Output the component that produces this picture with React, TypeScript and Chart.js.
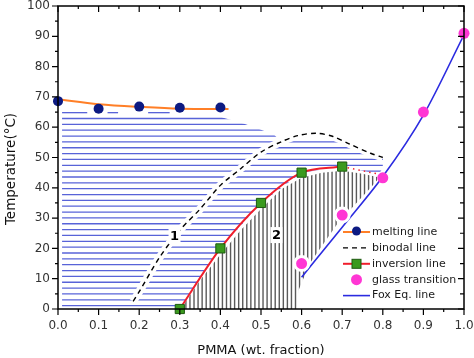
import React, { useEffect, useRef } from "react";
import { Chart, registerables } from "chart.js";
Chart.register(...registerables);

// ---------- data ----------
const X_TICK_VALUES = [0, 0.1, 0.2, 0.3, 0.4, 0.5, 0.6, 0.7, 0.8, 0.9, 1.0];
const X_TICK_LABELS = ["0.0", "0.1", "0.2", "0.3", "0.4", "0.5", "0.6", "0.7", "0.8", "0.9", "1.0"];
const Y_TICK_VALUES = [0, 10, 20, 30, 40, 50, 60, 70, 80, 90, 100];
const Y_TICK_LABELS = ["0", "10", "20", "30", "40", "50", "60", "70", "80", "90", "100"];
const X_TITLE = "PMMA (wt. fraction)";
const Y_TITLE = "Temperature(°C)";

const MELT_X = [0, 0.1, 0.2, 0.3, 0.4];
const MELT_T = [68.6, 66.1, 66.8, 66.4, 66.5];
const MELT_FIT_X = [0, 0.1, 0.2, 0.3, 0.42];
const MELT_FIT_T = [69.2, 67.6, 66.7, 66.1, 66.0];

const BINODAL_X = [0.185, 0.2, 0.25, 0.3, 0.35, 0.4, 0.45, 0.5, 0.55, 0.59, 0.636, 0.676, 0.717, 0.77, 0.8];
const BINODAL_T = [2.5, 5.7, 17, 26, 33, 40.8, 46.3, 51.8, 55.2, 57.2, 58, 57, 54.5, 51.4, 50];

const INV_X = [0.3, 0.4, 0.5, 0.6, 0.7];
const INV_T = [0, 20, 35, 45, 47];
const INV_EXT_X = [0.7, 0.79];
const INV_EXT_T = [47, 44.5];

const GLASS_X = [0.6, 0.7, 0.8, 0.9, 1.0];
const GLASS_T = [15, 31, 43.3, 65, 91];

const FOX_X = [0.6, 0.7, 0.8, 0.9, 1.0];
const FOX_T = [10.5, 27, 43.7, 64, 90.5];

// hatched regions (boundaries in data units)
const H_POLY_X = [0.01, 0.405, 0.405, 0.457, 0.497, 0.533, 0.545, 0.59, 0.636, 0.676, 0.717, 0.77, 0.8, 0.8, 0.79, 0.7, 0.6, 0.5, 0.4, 0.3, 0.01];
const H_POLY_T = [63.6, 63.6, 63.2, 61.2, 59.3, 57.4, 55.8, 57.4, 58.2, 57.2, 54.7, 51.6, 50.2, 46.5, 44.5, 47, 45, 35, 20, 0, 0];
const H_TOP = 64.8;
const H_STEP = 1.93;
const H_ROWS = 34;
const H_TOP_SEGS = [[0.01, 0.072], [0.122, 0.148], [0.222, 0.275]];

const V_POLY_X = [0.31, 0.35, 0.4, 0.45, 0.5, 0.55, 0.6, 0.65, 0.7, 0.75, 0.786, 0.786, 0.77, 0.69, 0.62, 0.592, 0.588, 0.31];
const V_POLY_T = [1.5, 9.5, 18, 26, 33, 39.5, 43.3, 45, 45.6, 44.6, 43.6, 42.5, 40, 28.5, 15, 6, 0, 0];
const V_START = 0.315;
const V_STEP = 0.01;
const V_COUNT = 48;

const REGION_LABELS = ["1", "2"];
const REGION_X = [0.287, 0.538];
const REGION_T = [24, 24.4];

const LEGEND_LABELS = ["melting line", "binodal line", "inversion line", "glass transition", "Fox Eq. line"];

// ---------- styles ----------
const C_ORANGE = "#ff7f27";
const C_NAVY = "#0c1a82";
const C_RED = "#f01e2c";
const C_GREEN = "#3a9a1e";
const C_GREEN_DARK = "#1d5a10";
const C_PINK = "#ff36d4";
const C_BLUE = "#2b2be0";
const C_HATCH_H = "rgba(70,82,212,0.9)";
const C_HATCH_V = "#5a5a5a";
const FONT = '"DejaVu Sans", sans-serif';

const pts = (xs: number[], ys: number[]) => xs.map((x, i) => ({ x, y: ys[i] }));

const hatchPlugin = {
  id: "hatch",
  beforeDatasetsDraw(chart: any) {
    const { ctx, chartArea: a, scales } = chart;
    const px = (v: number) => scales.x.getPixelForValue(v);
    const py = (v: number) => scales.y.getPixelForValue(v);
    const poly = (X: number[], T: number[]) => {
      ctx.beginPath();
      X.forEach((v, i) => (i ? ctx.lineTo(px(v), py(T[i])) : ctx.moveTo(px(v), py(T[i]))));
      ctx.closePath();
    };
    // horizontal hatching
    ctx.save();
    poly(H_POLY_X, H_POLY_T);
    ctx.clip();
    ctx.strokeStyle = C_HATCH_H;
    ctx.lineWidth = 1.3;
    for (let i = 1; i < H_ROWS; i++) {
      const y = py(H_TOP - i * H_STEP);
      ctx.beginPath();
      ctx.moveTo(a.left, y);
      ctx.lineTo(a.right, y);
      ctx.stroke();
    }
    ctx.restore();
    ctx.save();
    ctx.strokeStyle = C_HATCH_H;
    ctx.lineWidth = 1.3;
    const yt = py(H_TOP);
    H_TOP_SEGS.forEach(([s, e]) => {
      ctx.beginPath();
      ctx.moveTo(px(s), yt);
      ctx.lineTo(px(e), yt);
      ctx.stroke();
    });
    ctx.restore();
    // vertical hatching
    ctx.save();
    poly(V_POLY_X, V_POLY_T);
    ctx.clip();
    ctx.strokeStyle = C_HATCH_V;
    ctx.lineWidth = 1.4;
    for (let i = 0; i < V_COUNT; i++) {
      const x = px(V_START + i * V_STEP);
      ctx.beginPath();
      ctx.moveTo(x, a.top);
      ctx.lineTo(x, a.bottom);
      ctx.stroke();
    }
    ctx.restore();
  },
};

const overlayPlugin = {
  id: "overlay",
  afterDatasetsDraw(chart: any) {
    const { ctx, scales } = chart;
    ctx.save();
    ctx.font = `bold 13px ${FONT}`;
    ctx.textAlign = "center";
    ctx.textBaseline = "middle";
    REGION_LABELS.forEach((lab, i) => {
      const x = scales.x.getPixelForValue(REGION_X[i]);
      const y = scales.y.getPixelForValue(REGION_T[i]);
      ctx.fillStyle = "#fff";
      ctx.fillRect(x - 6, y - 8, 12, 16);
      ctx.fillStyle = "#000";
      ctx.fillText(lab, x, y + 0.5);
    });
    ctx.restore();
  },
  afterDraw(chart: any) {
    const { ctx, chartArea: a, scales } = chart;
    ctx.save();
    // frame
    ctx.strokeStyle = "#000";
    ctx.lineWidth = 1.5;
    ctx.strokeRect(a.left, a.top, a.right - a.left, a.bottom - a.top);
    // ticks
    ctx.lineWidth = 1.2;
    ctx.beginPath();
    for (let i = 0; i <= 20; i++) {
      const major = i % 2 === 0;
      const x = scales.x.getPixelForValue(i * 0.05);
      const L = major ? 6 : 3;
      ctx.moveTo(x, a.bottom);
      ctx.lineTo(x, a.bottom + L);
      ctx.moveTo(x, a.top);
      ctx.lineTo(x, a.top + L);
    }
    for (let i = 0; i <= 20; i++) {
      const major = i % 2 === 0;
      const y = scales.y.getPixelForValue(i * 5);
      const L = major ? 6 : 3;
      ctx.moveTo(a.left, y);
      ctx.lineTo(a.left - L, y);
      ctx.moveTo(a.right, y);
      ctx.lineTo(a.right - (major ? 6 : 4), y);
    }
    ctx.stroke();

    // y title
    ctx.save();
    ctx.translate(11, 169);
    ctx.rotate(-Math.PI / 2);
    ctx.font = `13.5px ${FONT}`;
    ctx.fillStyle = "#111";
    ctx.textAlign = "center";
    ctx.textBaseline = "middle";
    ctx.fillText(Y_TITLE, 0, 0);
    ctx.restore();

    // legend
    const lx0 = 343, lx1 = 370, tx = 372, y0 = 232, dy = 15.9;
    ctx.font = `11px ${FONT}`;
    ctx.textAlign = "left";
    ctx.textBaseline = "middle";
    LEGEND_LABELS.forEach((lab, i) => {
      const y = y0 + i * dy;
      const cx = (lx0 + lx1) / 2;
      ctx.setLineDash([]);
      if (i === 0) {
        ctx.strokeStyle = C_ORANGE; ctx.lineWidth = 2;
        ctx.beginPath(); ctx.moveTo(lx0, y); ctx.lineTo(lx1, y); ctx.stroke();
        ctx.fillStyle = C_NAVY;
        ctx.beginPath(); ctx.arc(cx, y - 1, 4.5, 0, Math.PI * 2); ctx.fill();
      } else if (i === 1) {
        ctx.strokeStyle = "#000"; ctx.lineWidth = 1.3; ctx.setLineDash([5, 4]);
        ctx.beginPath(); ctx.moveTo(lx0, y); ctx.lineTo(lx1, y); ctx.stroke();
        ctx.setLineDash([]);
      } else if (i === 2) {
        ctx.strokeStyle = C_RED; ctx.lineWidth = 2;
        ctx.beginPath(); ctx.moveTo(lx0, y); ctx.lineTo(lx1, y); ctx.stroke();
        ctx.fillStyle = C_GREEN; ctx.fillRect(cx - 4.5, y - 4.5, 9, 9);
        ctx.strokeStyle = C_GREEN_DARK; ctx.lineWidth = 1; ctx.strokeRect(cx - 4.5, y - 4.5, 9, 9);
      } else if (i === 3) {
        ctx.fillStyle = C_PINK;
        ctx.beginPath(); ctx.arc(cx, y, 5.5, 0, Math.PI * 2); ctx.fill();
      } else {
        ctx.strokeStyle = C_BLUE; ctx.lineWidth = 1.6;
        ctx.beginPath(); ctx.moveTo(lx0, y); ctx.lineTo(lx1, y); ctx.stroke();
      }
      ctx.fillStyle = "#1a1a1a";
      ctx.fillText(lab, tx, y);
    });
    ctx.restore();
  },
};

const noPad = (s: any) => {
  s.paddingTop = 0;
  s.paddingBottom = 0;
  s.paddingLeft = 0;
  s.paddingRight = 0;
};

export default function App() {
  const ref = useRef<HTMLCanvasElement>(null);
  useEffect(() => {
    const canvas = ref.current!;
    const chart = new Chart(canvas, {
      type: "scatter",
      data: {
        datasets: [
          {
            label: "binodal halo",
            data: pts(BINODAL_X, BINODAL_T),
            showLine: true, borderColor: "#fff", borderWidth: 8, pointRadius: 0,
            tension: 0.3, order: 9,
          },
          {
            label: "binodal line",
            data: pts(BINODAL_X, BINODAL_T),
            showLine: true, borderColor: "#000", borderWidth: 1.4, borderDash: [5, 4], pointRadius: 0,
            tension: 0.3, order: 8,
          },
          {
            label: "Fox Eq. line",
            data: pts(FOX_X, FOX_T),
            showLine: true, borderColor: C_BLUE, borderWidth: 1.6, pointRadius: 0,
            cubicInterpolationMode: "monotone", order: 7,
          },
          {
            label: "melting fit",
            data: pts(MELT_FIT_X, MELT_FIT_T),
            showLine: true, borderColor: C_ORANGE, borderWidth: 2, pointRadius: 0,
            cubicInterpolationMode: "monotone", order: 6,
          },
          {
            label: "inversion ext",
            data: pts(INV_EXT_X, INV_EXT_T),
            showLine: true, borderColor: C_RED, borderWidth: 1.5, borderDash: [1.5, 4], pointRadius: 0,
            order: 5,
          },
          {
            label: "inversion line",
            data: pts(INV_X, INV_T),
            showLine: true, borderColor: C_RED, borderWidth: 2, tension: 0.3,
            pointStyle: "rect", pointRadius: 6.5, pointBackgroundColor: C_GREEN,
            pointBorderColor: C_GREEN_DARK, pointBorderWidth: 1, order: 4,
            clip: false,
          },
          {
            label: "melting line",
            data: pts(MELT_X, MELT_T),
            showLine: false, pointRadius: 5, pointBackgroundColor: C_NAVY, pointBorderColor: C_NAVY,
            pointBorderWidth: 0, order: 2, clip: false,
          },
          {
            label: "glass transition",
            data: pts(GLASS_X, GLASS_T),
            showLine: false,
            pointRadius: [7, 7, 5.5, 5.5, 5.5],
            pointBorderWidth: [3, 3, 0, 0, 0],
            pointBackgroundColor: C_PINK, pointBorderColor: "#fff", order: 1, clip: false,
          },
        ],
      } as any,
      options: {
        animation: false,
        responsive: true,
        maintainAspectRatio: false,
        layout: { autoPadding: false, padding: { top: 6, right: 10, left: 0, bottom: 0 } },
        plugins: { legend: { display: false }, tooltip: { enabled: false } },
        scales: {
          x: {
            type: "linear", min: 0, max: 1,
            grid: { display: false, drawTicks: false },
            border: { display: false },
            afterBuildTicks: (s: any) => { s.ticks = X_TICK_VALUES.map((v) => ({ value: v })); },
            afterFit: (s: any) => { s.height = 49; noPad(s); },
            ticks: {
              padding: 10, color: "#333", font: { family: FONT, size: 12 },
              callback: (_v: any, i: number) => X_TICK_LABELS[i],
              autoSkip: false, maxRotation: 0,
            },
            title: {
              display: true, text: X_TITLE, color: "#111",
              font: { family: FONT, size: 13 }, padding: { top: 0, bottom: 0 },
            },
          },
          y: {
            type: "linear", min: 0, max: 100,
            grid: { display: false, drawTicks: false },
            border: { display: false },
            afterBuildTicks: (s: any) => { s.ticks = Y_TICK_VALUES.map((v) => ({ value: v })); },
            afterFit: (s: any) => { s.width = 58; noPad(s); },
            ticks: {
              padding: 8, color: "#333", font: { family: FONT, size: 12, lineHeight: 1 },
              callback: (_v: any, i: number) => Y_TICK_LABELS[i],
              autoSkip: false,
            },
            title: { display: false },
          },
        },
      } as any,
      plugins: [hatchPlugin, overlayPlugin],
    });
    return () => chart.destroy();
  }, []);
  return (
    <div style={{ position: "absolute", left: 0, top: 0, width: 474, height: 358, background: "#fff" }}>
      <canvas ref={ref} />
    </div>
  );
}
